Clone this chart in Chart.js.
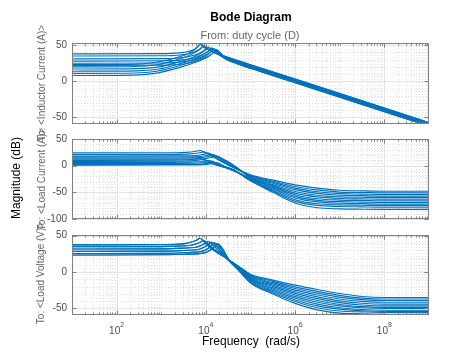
<!DOCTYPE html>
<html>
<head>
<meta charset="utf-8">
<script src="https://cdn.jsdelivr.net/npm/chart.js@4.4.1/dist/chart.umd.min.js"></script>
<style>
html,body{margin:0;padding:0;background:#fff;}
#wrap{position:relative;width:474px;height:355px;overflow:hidden;font-family:"Liberation Sans",Arial,Helvetica,sans-serif;}
#wrap canvas{position:absolute;left:0;top:0;}
.t{position:absolute;white-space:nowrap;line-height:1;transform:translate(-50%,-50%);}
.r{transform:translate(-50%,-50%) rotate(-90deg);}
</style>
</head>
<body>
<div id="wrap">
<canvas id="p1" width="474" height="355"></canvas>
<canvas id="p2" width="474" height="355"></canvas>
<canvas id="p3" width="474" height="355"></canvas>
<div class="t" style="left:251px;top:17px;font-size:12px;font-weight:bold;color:#000;">Bode Diagram</div>
<div class="t" style="left:250px;top:35px;font-size:11px;color:#666;">From: duty cycle (D)</div>
<div class="t r" style="left:16px;top:178px;font-size:12px;color:#000;">Magnitude (dB)</div>
<div class="t r" style="left:42px;top:83px;font-size:10px;color:#666;">To: &lt;Inductor Current (A)&gt;</div>
<div class="t r" style="left:42px;top:179px;font-size:10px;color:#666;">To: &lt;Load Current (A)&gt;</div>
<div class="t r" style="left:41px;top:273px;font-size:10px;color:#666;">To: &lt;Load Voltage (V)&gt;</div>
<div class="t" style="left:251px;top:341px;font-size:12px;color:#000;">Frequency&nbsp;&nbsp;(rad/s)</div>
</div>
<script>
// ---- DATA: each point is [log10(frequency in rad/s), magnitude in dB] ----
// Inductor current: low-frequency part of each curve up to its resonance peak
const inductorHeads = [
  [[1,38],[3.1,38.4],[3.5,40],[3.7,43],[3.8,47],[3.87,51.5]],
  [[1,23],[2.35,23.5],[2.85,26],[3.3,32],[3.6,38],[3.75,44],[3.82,48],[3.87,51.5]],
  [[1,35],[3.1,35.4],[3.55,37.5],[3.75,41],[3.88,45.5],[3.95,49.5]],
  [[1,20],[2.4,20.5],[2.9,23],[3.3,29],[3.6,35],[3.8,41.5],[3.9,46],[3.95,49.5]],
  [[1,31],[3.1,31.4],[3.6,34],[3.85,38.5],[3.97,43],[4.05,47.5]],
  [[1,17],[2.45,17.5],[2.95,20],[3.4,27],[3.7,33],[3.9,39.5],[4,44],[4.05,47.5]],
  [[1,28],[3.1,28.4],[3.65,31],[3.9,36.5],[4.05,41.5],[4.13,46]],
  [[1,14],[2.45,14.5],[2.95,17],[3.4,24],[3.75,31],[3.95,37.5],[4.07,42.5],[4.13,46]],
  [[1,25],[3.05,25.4],[3.6,28],[3.9,33.5],[4.08,39.5],[4.18,45]],
  [[1,11],[2.4,11.5],[2.9,14],[3.4,21.5],[3.75,28.5],[4,35],[4.12,41],[4.18,45]],
  [[1,22],[3.05,22.4],[3.6,25],[3.95,31.5],[4.14,38],[4.24,43.5]],
  [[1,8],[2.35,8.5],[2.85,11],[3.4,19],[3.8,27],[4.05,34],[4.18,40],[4.24,43.5]]
];
// Inductor current: high-frequency roll-off, one per resonance group (shared by two curves)
const inductorTails = [
  [[3.95,47.5],[4.07,43.6],[4.3,37.5],[5,23],[6,3],[7,-17],[8,-37],[9,-57]],
  [[4.03,45.5],[4.15,41],[4.4,34.5],[5,22],[6,2],[7,-18],[8,-38],[9,-58]],
  [[4.13,43.5],[4.25,38],[4.5,31.5],[5,21],[6,1],[7,-19],[8,-39],[9,-59]],
  [[4.21,42],[4.33,35.4],[4.6,28.5],[5,20],[6,0],[7,-20],[8,-40],[9,-60]],
  [[4.26,41],[4.38,33.4],[4.65,26.5],[5,19],[6,-1],[7,-21],[8,-41],[9,-61]],
  [[4.32,39.5],[4.44,31.2],[4.7,24.5],[5,18],[6,-2],[7,-22],[8,-42],[9,-62]]
];
// Load current curves
const loadCurrentCurves = [
  [[1,24],[3.3,24.3],[3.57,25],[3.75,26.5],[3.87,28.5],[3.95,26],[4.07,20.5],[4.5,1],[5,-17],[5.5,-27],[6,-36],[6.5,-42],[7,-46],[7.5,-47.3],[8,-48],[9,-48]],
  [[1,21],[3.3,21.3],[3.65,22],[3.83,23.8],[3.95,26],[4.03,23.5],[4.15,18],[4.5,2],[5,-18],[5.5,-29],[6,-39],[6.5,-45.5],[7,-49.5],[7.5,-50.3],[8,-51],[9,-51]],
  [[1,18],[3.3,18.3],[3.75,19],[3.93,21],[4.05,23.5],[4.13,21],[4.25,15.5],[4.5,3],[5,-19],[5.5,-31],[6,-42],[6.5,-49],[7,-52.5],[7.5,-53.3],[8,-54],[9,-54]],
  [[1,16],[3.3,16.3],[3.83,17],[4.01,19],[4.13,21.5],[4.21,19],[4.33,13.5],[4.6,0],[5,-20],[5.5,-33],[6,-45],[6.5,-52],[7,-55.5],[7.5,-56.3],[8,-57],[9,-57]],
  [[1,14],[3.3,14.3],[3.88,15],[4.06,17.3],[4.18,20],[4.26,17.5],[4.38,12],[4.65,-1],[5,-21.5],[5.5,-35.5],[6,-48.5],[6.5,-55.5],[7,-58.5],[7.5,-59.3],[8,-60],[9,-60]],
  [[1,12],[3.3,12.3],[3.94,13],[4.12,15.3],[4.24,18],[4.32,15.5],[4.44,10],[4.7,-4],[5,-22.5],[5.5,-37.5],[6,-51.5],[6.5,-58.5],[7,-61.5],[7.5,-62.3],[8,-63],[9,-63]],
  [[1,10],[3.3,10.3],[3.57,11],[3.75,12],[3.87,13.5],[3.95,11],[4.07,5.5],[4.5,-5],[5,-23.5],[5.5,-39.5],[6,-54.5],[6.5,-62],[7,-64.5],[7.5,-65.3],[8,-66],[9,-66]],
  [[1,8],[3.3,8.3],[3.65,9],[3.83,10.2],[3.95,12],[4.03,9.5],[4.15,4],[4.5,-5.5],[5,-24.5],[5.5,-41.5],[6,-57.5],[6.5,-65],[7,-67.5],[7.5,-68.3],[8,-69],[9,-69]],
  [[1,6],[3.3,6.3],[3.75,7],[3.93,8.3],[4.05,10],[4.13,7.5],[4.25,2],[4.55,-6],[5,-26],[5.5,-43.5],[6,-60.5],[6.5,-68],[7,-70.5],[7.5,-71.3],[8,-72],[9,-72]],
  [[1,4],[3.3,4.3],[3.83,5],[4.01,6.5],[4.13,8.5],[4.21,6],[4.33,0.5],[4.6,-7],[5,-27],[5.5,-46],[6,-64],[6.5,-71.5],[7,-73.5],[7.5,-74.3],[8,-75],[9,-75]],
  [[1,2],[3.3,2.3],[3.88,3],[4.06,4.5],[4.18,6.5],[4.26,4],[4.38,-1.5],[4.65,-8.5],[5,-28],[5.5,-48],[6,-67],[6.5,-74.5],[7,-76.5],[7.5,-77.3],[8,-78],[9,-78]],
  [[1,1],[3.3,1.3],[3.94,2],[4.12,3.8],[4.24,6],[4.32,3.5],[4.44,-2],[4.7,-12],[5,-28.5],[5.5,-50],[6,-70],[6.5,-79],[7,-81],[7.5,-81.7],[8,-82],[9,-82]]
];
// Load voltage: resonance part, one per group (shared by two curves)
const loadVoltageHeads = [
  [[1,37.5],[3,37.8],[3.4,38.5],[3.56,39.5],[3.71,42],[3.8,44],[3.86,46.5],[3.92,44.5],[4,39],[4.15,31],[4.3,25],[4.45,19.5]],
  [[1,34.8],[3,35.1],[3.4,35.7],[3.64,36.6],[3.79,39],[3.88,41],[3.94,43.5],[4,41.5],[4.1,36],[4.25,28],[4.45,19.5]],
  [[1,31.7],[3,32],[3.5,33],[3.75,33.8],[3.9,36.8],[3.99,39.5],[4.05,42],[4.11,40],[4.2,35],[4.32,27],[4.45,19.5]],
  [[1,28.5],[3,28.8],[3.5,29.7],[3.83,31],[3.98,34.7],[4.07,38.5],[4.13,41],[4.19,39],[4.27,34],[4.36,26.5],[4.45,19.5]],
  [[1,25.5],[3,25.8],[3.5,26.6],[3.9,28.4],[4.05,32.5],[4.14,37.5],[4.2,40],[4.26,38],[4.33,33],[4.4,26],[4.47,19]],
  [[1,23.5],[3,23.8],[3.5,24.5],[3.97,26.5],[4.12,31],[4.21,36.2],[4.27,38.7],[4.32,36.5],[4.38,31.5],[4.44,25],[4.5,18.5]]
];
// Load voltage: high-frequency part of each curve
const loadVoltageTails = [
  [[4.75,7.5],[5,-3],[5.5,-11],[6,-18],[6.5,-24],[7,-29.5],[7.5,-33.5],[8,-35],[9,-35]],
  [[4.75,7],[5,-4],[5.5,-12.7],[6,-20.3],[6.5,-26.5],[7,-32],[7.5,-35.7],[8,-37],[9,-37]],
  [[4.75,6.4],[5,-5],[5.5,-14.5],[6,-22.5],[6.5,-29],[7,-34.5],[7.5,-37.8],[8,-39],[9,-39]],
  [[4.75,5.8],[5,-6.2],[5.5,-16.2],[6,-24.8],[6.5,-31.5],[7,-37],[7.5,-40.3],[8,-41.5],[9,-41.5]],
  [[4.75,5.2],[5,-7.3],[5.5,-18],[6,-27],[6.5,-34],[7,-39.5],[7.5,-42.8],[8,-44],[9,-44]],
  [[4.75,4.6],[5,-8.4],[5.5,-19.7],[6,-29.3],[6.5,-36.5],[7,-42],[7.5,-45.3],[8,-46.5],[9,-46.5]],
  [[4.75,4],[5,-9.5],[5.5,-21.5],[6,-31.5],[6.5,-39],[7,-44.5],[7.5,-47.4],[8,-48.5],[9,-48.5]],
  [[4.75,3.4],[5,-10.6],[5.5,-23.2],[6,-33.8],[6.5,-41.5],[7,-46.5],[7.5,-49],[8,-50],[9,-50]],
  [[4.75,2.8],[5,-11.7],[5.5,-25],[6,-36],[6.5,-44],[7,-49],[7.5,-51.5],[8,-52.5],[9,-52.5]],
  [[4.75,2.2],[5,-12.8],[5.5,-26.7],[6,-38.3],[6.5,-46.5],[7,-51],[7.5,-53.1],[8,-54],[9,-54]],
  [[4.75,1.6],[5,-14],[5.5,-28.5],[6,-40.5],[6.5,-49],[7,-53.5],[7.5,-54.7],[8,-55.5],[9,-55.5]],
  [[4.75,1],[5,-15],[5.5,-30],[6,-43],[6.5,-52],[7,-56.5],[7.5,-57.3],[8,-58],[9,-58]]
];
// Axis ticks
const xTickExponents = [2, 4, 6, 8];
const yTicksInductor = [-50, 0, 50];
const yTicksLoadCurrent = [-100, -50, 0, 50];
const yTicksLoadVoltage = [-50, 0, 50];

// ---- assemble curves ----
const inductorCurves = inductorHeads.map((h, i) => h.concat(inductorTails[Math.floor(i / 2)]));
const loadVoltageCurves = loadVoltageTails.map((t, i) => loadVoltageHeads[i % 6].concat(t));

// ---- styling ----
const FONT = '"Liberation Sans", Arial, Helvetica, sans-serif';
const LINE = '#0072BD';
const BOX = '#808080';
const TICKTXT = '#4d4d4d';
const MAJOR_GRID = '#e4e4e4';
const MINOR_GRID = '#dedede';
const PLOT_LEFT = 72, PLOT_RIGHT = 429;

const gridPlugin = {
  id: 'bodeGrid',
  beforeDatasetsDraw(chart) {
    const {ctx, chartArea: a} = chart;
    const x = chart.scales.x, y = chart.scales.y;
    ctx.save();
    ctx.lineWidth = 1;
    // minor dotted
    ctx.strokeStyle = MINOR_GRID;
    ctx.setLineDash([1, 2]);
    ctx.beginPath();
    for (let k = 1; k <= 8; k++) {
      for (let m = 1; m <= 9; m++) {
        if (m === 1 && k % 2 === 0) continue;
        const px = Math.round(x.getPixelForValue(m * Math.pow(10, k))) + 0.5;
        ctx.moveTo(px, a.top); ctx.lineTo(px, a.bottom);
      }
    }
    for (let v = Math.ceil(y.min / 10) * 10; v <= y.max; v += 10) {
      if (v % 50 === 0) continue;
      const py = Math.round(y.getPixelForValue(v)) + 0.5;
      ctx.moveTo(a.left, py); ctx.lineTo(a.right, py);
    }
    ctx.stroke();
    // major solid
    ctx.setLineDash([]);
    ctx.strokeStyle = MAJOR_GRID;
    ctx.beginPath();
    xTickExponents.forEach(e => {
      const px = Math.round(x.getPixelForValue(Math.pow(10, e))) + 0.5;
      ctx.moveTo(px, a.top); ctx.lineTo(px, a.bottom);
    });
    y.ticks.forEach(t => {
      const py = Math.round(y.getPixelForValue(t.value)) + 0.5;
      ctx.moveTo(a.left, py); ctx.lineTo(a.right, py);
    });
    ctx.stroke();
    ctx.restore();
  },
  afterDatasetsDraw(chart) {
    const {ctx, chartArea: a} = chart;
    const x = chart.scales.x, y = chart.scales.y;
    const L = Math.round(a.left) + 0.5, R = Math.round(a.right) - 0.5;
    const T = Math.round(a.top) + 0.5, B = Math.round(a.bottom) - 0.5;
    ctx.save();
    ctx.strokeStyle = BOX;
    ctx.lineWidth = 1;
    ctx.beginPath();
    for (let k = 1; k <= 8; k++) {
      for (let m = 1; m <= 9; m++) {
        const major = (m === 1 && k % 2 === 0);
        const len = major ? 4 : 2;
        const px = Math.round(x.getPixelForValue(m * Math.pow(10, k))) + 0.5;
        ctx.moveTo(px, T); ctx.lineTo(px, T + len);
        ctx.moveTo(px, B); ctx.lineTo(px, B - len);
      }
    }
    y.ticks.forEach(t => {
      const py = Math.round(y.getPixelForValue(t.value)) + 0.5;
      ctx.moveTo(L, py); ctx.lineTo(L + 4, py);
      ctx.moveTo(R, py); ctx.lineTo(R - 4, py);
    });
    ctx.stroke();
    ctx.strokeRect(L, T, R - L, B - T);
    ctx.restore();
  }
};

const xLabelPlugin = {
  id: 'xLabels',
  afterDraw(chart) {
    if (!chart.options.showXLabels) return;
    const {ctx, chartArea: a} = chart;
    const x = chart.scales.x;
    ctx.save();
    ctx.fillStyle = TICKTXT;
    ctx.textBaseline = 'middle';
    ctx.textAlign = 'left';
    xTickExponents.forEach(e => {
      const px = x.getPixelForValue(Math.pow(10, e));
      ctx.font = '10px ' + FONT;
      const wb = ctx.measureText('10').width;
      ctx.font = '7px ' + FONT;
      const we = ctx.measureText(String(e)).width;
      const left = px - (wb + we) / 2;
      ctx.font = '10px ' + FONT;
      ctx.fillText('10', left, a.bottom + 16);
      ctx.font = '7px ' + FONT;
      ctx.fillText(String(e), left + wb, a.bottom + 10);
    });
    ctx.restore();
  }
};

function makePanel(id, curves, yMin, yMax, yTicks, top, bottom, showX) {
  const datasets = curves.map(c => ({
    data: c.map(p => ({x: Math.pow(10, p[0]), y: p[1]})),
    borderColor: LINE,
    borderWidth: 1.15,
    pointRadius: 0,
    fill: false,
    cubicInterpolationMode: 'monotone'
  }));
  return new Chart(document.getElementById(id), {
    type: 'line',
    data: {datasets},
    options: {
      responsive: false,
      animation: false,
      devicePixelRatio: 1,
      events: [],
      showXLabels: showX,
      layout: {padding: {left: 0, right: 474 - PLOT_RIGHT, top: top, bottom: 355 - bottom}},
      plugins: {legend: {display: false}, tooltip: {enabled: false}, title: {display: false}},
      scales: {
        x: {type: 'logarithmic', min: 10, max: 1e9, display: false},
        y: {
          type: 'linear', min: yMin, max: yMax,
          afterFit: s => { s.width = PLOT_LEFT; },
          afterBuildTicks: s => { s.ticks = yTicks.map(v => ({value: v})); },
          grid: {display: false, drawTicks: false},
          border: {display: false},
          ticks: {color: TICKTXT, font: {family: FONT, size: 10}, padding: 5, autoSkip: false,
                  callback: v => String(v)}
        }
      }
    },
    plugins: [gridPlugin, xLabelPlugin]
  });
}

makePanel('p1', inductorCurves, -59, 53, yTicksInductor, 43, 124, false);
makePanel('p2', loadCurrentCurves, -100, 50, yTicksLoadCurrent, 139, 219, false);
makePanel('p3', loadVoltageCurves, -59, 51, yTicksLoadVoltage, 235, 315, true);
</script>
</body>
</html>
